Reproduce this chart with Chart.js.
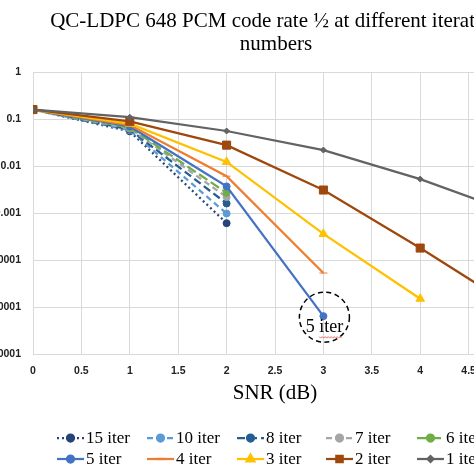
<!DOCTYPE html>
<html>
<head>
<meta charset="utf-8">
<script src="https://cdn.jsdelivr.net/npm/chart.js@4.4.1/dist/chart.umd.min.js"></script>
<style>
  html, body { margin: 0; padding: 0; background: #fff; overflow: hidden; }
  #wrap { position: relative; width: 474px; height: 474px; overflow: hidden; }
  #grafico { position: absolute; left: -40px; top: 0; }
</style>
</head>
<body>
<div id="wrap"><canvas id="grafico" width="632" height="474"></canvas></div>
<script>
// SNR points (dB)
var snr = [0, 1, 2, 3, 4, 5];

// BER per iteration count
var iter15 = [0.16, 0.055, 0.00061];
var iter10 = [0.16, 0.058, 0.00098];
var iter8  = [0.16, 0.06, 0.0016];
var iter7  = [0.16, 0.063, 0.0022];
var iter6  = [0.16, 0.066, 0.0027];
var iter5  = [0.16, 0.07, 0.0037, 0.0000064];
var iter4  = [0.16, 0.075, 0.0061, 0.000053];
var iter3  = [0.16, 0.08, 0.0123, 0.00036, 0.000015];
var iter2  = [0.16, 0.09, 0.028, 0.0031, 0.00018, 0.000009];
var iter1  = [0.16, 0.11, 0.056, 0.022, 0.0053, 0.00095];

var nomes = ['15 iter', '10 iter', '8 iter', '7 iter', '6 iter', '5 iter', '4 iter', '3 iter', '2 iter', '1 iter'];
var series = [iter15, iter10, iter8, iter7, iter6, iter5, iter4, iter3, iter2, iter1];

var xTicks = [0, 0.5, 1, 1.5, 2, 2.5, 3, 3.5, 4, 4.5, 5];
var xTickLabels = ['0', '0.5', '1', '1.5', '2', '2.5', '3', '3.5', '4', '4.5', '5'];
var yTicks = [1, 0.1, 0.01, 0.001, 0.0001, 0.00001, 0.000001];
var yTickLabels = ['1', '0.1', '0.01', '0.001', '0.0001', '0.00001', '0.000001'];

var titulo = ['QC-LDPC 648 PCM code rate \u00bd at different iteration', 'numbers'];
var eixoX = 'SNR (dB)';
var nota = '5 iter';

// look of each series
var cores   = ['#264478', '#5B9BD5', '#255E91', '#A5A5A5', '#70AD47', '#4472C4', '#ED7D31', '#FFC000', '#9E480E', '#636363'];
var tracos  = [[2, 3], [6, 4], [8, 4], [6, 4], [10, 4], [], [], [], [], []];
var marcas  = ['circle', 'circle', 'circle', 'circle', 'circle', 'circle', 'line', 'triangle', 'rect', 'rectRot'];
var raios   = [3.5, 3.5, 3.5, 3.5, 3.5, 3.5, 4, 5, 5.7, 3];

var shift = 40; // canvas starts 40px left of the page

function toPts(arr) {
    var pts = [];
    for (var i = 0; i < arr.length; i++) pts.push({x: snr[i], y: arr[i]});
    return pts;
}

var datasets = series.map(function(s, i) {
    return {
        label: nomes[i],
        data: toPts(s),
        borderColor: cores[i],
        backgroundColor: cores[i],
        borderWidth: 2.25,
        borderDash: tracos[i],
        pointStyle: marcas[i],
        pointRadius: raios[i],
        pointBorderWidth: 1,
        pointBackgroundColor: cores[i],
        pointBorderColor: cores[i],
        tension: 0,
        order: series.length - i
    };
});

var legenda = {
    id: 'legenda',
    afterDraw: function(chart) {
        var ctx = chart.ctx;
        var colX = [57, 147, 237, 326, 417];
        var rowY = [438, 459];
        ctx.save();
        chart.data.datasets.forEach(function(ds, i) {
            var x = colX[i % 5] + shift, y = rowY[Math.floor(i / 5)];
            ctx.strokeStyle = ds.borderColor;
            ctx.fillStyle = ds.borderColor;
            ctx.lineWidth = 2.25;
            ctx.setLineDash(ds.borderDash);
            ctx.beginPath();
            ctx.moveTo(x, y);
            ctx.lineTo(x + 27, y);
            ctx.stroke();
            ctx.setLineDash([]);
            Chart.helpers.drawPoint(ctx, {pointStyle: ds.pointStyle, radius: Math.min(ds.pointRadius, 4.5), borderWidth: 1, rotation: 0}, x + 13.5, y);
            ctx.fillStyle = '#000';
            ctx.font = '17px "Liberation Serif"';
            ctx.textBaseline = 'middle';
            ctx.fillText(ds.label, x + 29, y + 1);
        });
        ctx.restore();
    }
};

var anotacao = {
    id: 'anotacao',
    afterDatasetsDraw: function(chart) {
        var ctx = chart.ctx;
        var px = chart.scales.x.getPixelForValue(snr[3]);
        var py = chart.scales.y.getPixelForValue(iter5[3]);
        ctx.save();
        ctx.strokeStyle = '#000';
        ctx.lineWidth = 1.5;
        ctx.setLineDash([5, 3.5]);
        ctx.beginPath();
        ctx.arc(px + 1, py + 1, 25, 0, Math.PI * 2);
        ctx.stroke();
        ctx.setLineDash([]);
        ctx.font = '18px "Liberation Serif"';
        ctx.fillStyle = '#000';
        ctx.textAlign = 'center';
        ctx.textBaseline = 'middle';
        ctx.fillText(nota, px + 1, py + 11);
        // spell-check squiggle under "iter"
        var w = ctx.measureText(nota).width;
        var x0 = px + 1 - w / 2 + ctx.measureText('5 ').width, x1 = px + 1 + w / 2;
        ctx.strokeStyle = '#E05050';
        ctx.lineWidth = 0.8;
        ctx.beginPath();
        for (var x = x0, k = 0; x <= x1; x += 1.5, k++) {
            var yy = py + 21 + (k % 2 ? 1 : -0.5);
            if (k === 0) ctx.moveTo(x, yy); else ctx.lineTo(x, yy);
        }
        ctx.stroke();
        ctx.restore();
    }
};

var grafico = new Chart(document.getElementById('grafico').getContext('2d'), {
    type: 'line',
    data: { datasets: datasets },
    plugins: [anotacao, legenda],
    options: {
        responsive: false,
        animation: false,
        devicePixelRatio: 1,
        layout: { padding: { left: 0, right: 0, top: 0, bottom: 66 } },
        plugins: {
            legend: { display: false },
            tooltip: { enabled: false },
            title: {
                display: true,
                text: titulo,
                color: '#000',
                font: { family: '"Liberation Serif"', size: 21, weight: 'normal', lineHeight: 1.1 },
                padding: { top: 10, bottom: 16 }
            }
        },
        scales: {
            x: {
                type: 'linear',
                min: 0,
                max: 5,
                afterBuildTicks: function(scale) { scale.ticks = xTicks.map(function(v) { return {value: v}; }); },
                afterFit: function(scale) { scale.height = 54; },
                grid: { color: '#D9D9D9', lineWidth: 1, drawTicks: false },
                border: { color: '#D9D9D9' },
                ticks: {
                    padding: 11,
                    maxRotation: 0,
                    color: '#222',
                    font: { family: '"Liberation Sans"', size: 10.5, weight: 'bold' },
                    callback: function(v) {
                        var i = xTicks.indexOf(v);
                        return i >= 0 ? xTickLabels[i] : '';
                    }
                },
                title: {
                    display: true,
                    text: eixoX,
                    color: '#000',
                    font: { family: '"Liberation Serif"', size: 21 },
                    padding: { top: 0, bottom: 2 }
                }
            },
            y: {
                type: 'logarithmic',
                min: 0.000001,
                max: 1,
                afterBuildTicks: function(scale) { scale.ticks = yTicks.map(function(v) { return {value: v}; }); },
                afterFit: function(scale) { scale.width = 73; },
                grid: { color: '#D9D9D9', lineWidth: 1, drawTicks: false },
                border: { color: '#D9D9D9' },
                ticks: {
                    padding: 12,
                    color: '#222',
                    font: { family: '"Liberation Sans"', size: 10.5, weight: 'bold' },
                    callback: function(v) {
                        var i = yTicks.indexOf(v);
                        return i >= 0 ? yTickLabels[i] : '';
                    }
                }
            },
            // empty right-hand space so the title stays centred on the whole chart
            espaco: {
                type: 'linear',
                position: 'right',
                afterFit: function(scale) { scale.width = 75; },
                grid: { display: false, drawOnChartArea: false },
                border: { display: false },
                ticks: { display: false }
            }
        }
    }
});
</script>
</body>
</html>
